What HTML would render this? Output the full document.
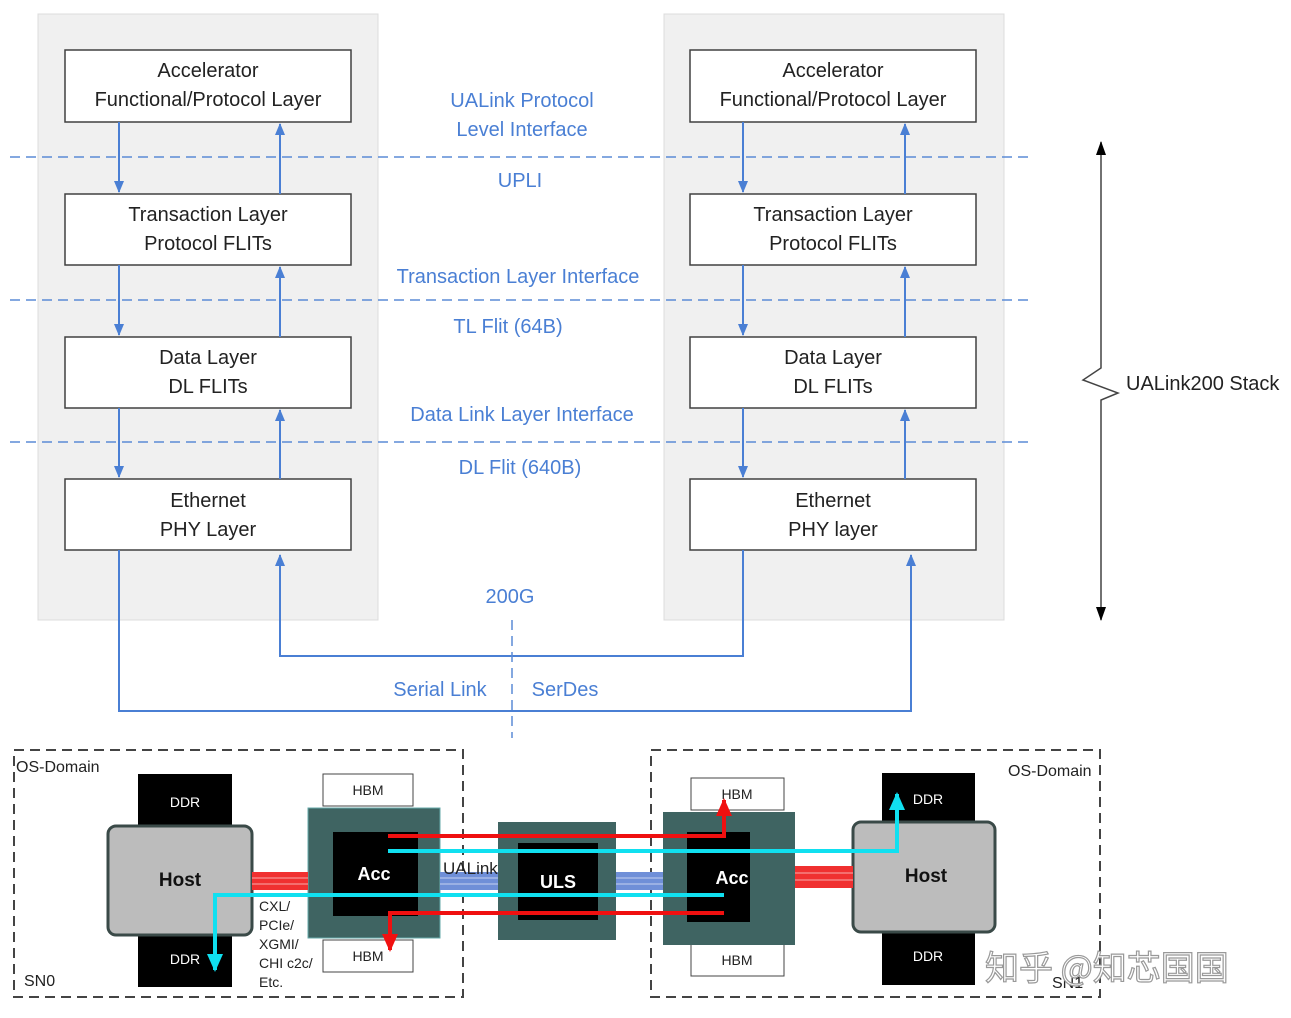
<!DOCTYPE html>
<html><head><meta charset="utf-8"><style>
html,body{margin:0;padding:0;background:#fff;}
svg{display:block;font-family:"Liberation Sans","Noto Sans CJK SC",sans-serif;}
</style></head><body>
<svg width="1291" height="1018" viewBox="0 0 1291 1018" xmlns="http://www.w3.org/2000/svg">
<defs>
<marker id="ab" markerWidth="12" markerHeight="10" refX="11" refY="5" orient="auto" markerUnits="userSpaceOnUse" viewBox="0 0 12 10"><path d="M0,0 L12,5 L0,10 z" fill="#4a7fd4"/></marker>
<marker id="ak" markerWidth="14" markerHeight="10" refX="13" refY="5" orient="auto-start-reverse" markerUnits="userSpaceOnUse" viewBox="0 0 14 10"><path d="M0,0 L14,5 L0,10 z" fill="#000"/></marker>
<marker id="ar" markerWidth="18" markerHeight="16" refX="16" refY="8" orient="auto" markerUnits="userSpaceOnUse" viewBox="0 0 18 16"><path d="M0,0 L18,8 L0,16 z" fill="#f01010"/></marker>
<marker id="ac" markerWidth="18" markerHeight="16" refX="16" refY="8" orient="auto" markerUnits="userSpaceOnUse" viewBox="0 0 18 16"><path d="M0,0 L18,8 L0,16 z" fill="#10e0f0"/></marker>
</defs>
<rect x="38" y="14" width="340" height="606" fill="#f0f0f0" stroke="#dcdcdc"/>
<rect x="664" y="14" width="340" height="606" fill="#f0f0f0" stroke="#dcdcdc"/>
<g fill="#fff" stroke="#404040" stroke-width="1.5">
<rect x="65" y="50" width="286" height="72"/><rect x="65" y="194" width="286" height="71"/><rect x="65" y="337" width="286" height="71"/><rect x="65" y="479" width="286" height="71"/>
<rect x="690" y="50" width="286" height="72"/><rect x="690" y="194" width="286" height="71"/><rect x="690" y="337" width="286" height="71"/><rect x="690" y="479" width="286" height="71"/>
</g>
<g font-size="20" fill="#222" text-anchor="middle">
<text x="208" y="77">Accelerator</text><text x="208" y="106">Functional/Protocol Layer</text>
<text x="208" y="221">Transaction Layer</text><text x="208" y="250">Protocol FLITs</text>
<text x="208" y="364">Data Layer</text><text x="208" y="393">DL FLITs</text>
<text x="208" y="507">Ethernet</text><text x="208" y="536">PHY Layer</text>
<text x="833" y="77">Accelerator</text><text x="833" y="106">Functional/Protocol Layer</text>
<text x="833" y="221">Transaction Layer</text><text x="833" y="250">Protocol FLITs</text>
<text x="833" y="364">Data Layer</text><text x="833" y="393">DL FLITs</text>
<text x="833" y="507">Ethernet</text><text x="833" y="536">PHY layer</text>
</g>
<g stroke="#4a7fd4" stroke-width="2" fill="none">
<line x1="119" y1="122" x2="119" y2="192" marker-end="url(#ab)"/><line x1="280" y1="194" x2="280" y2="124" marker-end="url(#ab)"/>
<line x1="119" y1="265" x2="119" y2="335" marker-end="url(#ab)"/><line x1="280" y1="337" x2="280" y2="267" marker-end="url(#ab)"/>
<line x1="119" y1="408" x2="119" y2="477" marker-end="url(#ab)"/><line x1="280" y1="479" x2="280" y2="410" marker-end="url(#ab)"/>
<line x1="743" y1="122" x2="743" y2="192" marker-end="url(#ab)"/><line x1="905" y1="194" x2="905" y2="124" marker-end="url(#ab)"/>
<line x1="743" y1="265" x2="743" y2="335" marker-end="url(#ab)"/><line x1="905" y1="337" x2="905" y2="267" marker-end="url(#ab)"/>
<line x1="743" y1="408" x2="743" y2="477" marker-end="url(#ab)"/><line x1="905" y1="479" x2="905" y2="410" marker-end="url(#ab)"/>
<polyline points="119,550 119,711 911,711 911,555" marker-end="url(#ab)"/>
<polyline points="743,550 743,656 280,656 280,555" marker-end="url(#ab)"/>
</g>
<g stroke="#5b8bd6" stroke-width="1.5" stroke-dasharray="10,6" fill="none">
<line x1="10" y1="157" x2="1028" y2="157"/><line x1="10" y1="300" x2="1028" y2="300"/><line x1="10" y1="442" x2="1028" y2="442"/>
<line x1="512" y1="620" x2="512" y2="738"/>
</g>
<g font-size="20" fill="#4a7fd4" text-anchor="middle">
<text x="522" y="107">UALink Protocol</text><text x="522" y="136">Level Interface</text>
<text x="520" y="187">UPLI</text>
<text x="518" y="283">Transaction Layer Interface</text>
<text x="508" y="333">TL Flit (64B)</text>
<text x="522" y="421">Data Link Layer Interface</text>
<text x="520" y="474">DL Flit (640B)</text>
<text x="510" y="603">200G</text>
<text x="440" y="696">Serial Link</text>
<text x="565" y="696">SerDes</text>
</g>
<g stroke="#444" stroke-width="1.5" fill="none">
<polyline points="1101,142 1101,340 1101,368 1083,380 1118,393 1101,400 1101,620" marker-start="url(#ak)" marker-end="url(#ak)"/>
</g>
<text x="1126" y="390" font-size="20" fill="#222">UALink200 Stack</text>
<g stroke="#444" stroke-width="2" stroke-dasharray="10,6" fill="none">
<rect x="14" y="750" width="449" height="247"/><rect x="651" y="750" width="449" height="247"/>
</g>
<g font-size="16" fill="#222">
<text x="16" y="772">OS-Domain</text><text x="24" y="986">SN0</text>
<text x="1008" y="776">OS-Domain</text><text x="1052" y="988">SN1</text>
</g>
<rect x="138" y="774" width="94" height="54" fill="#000"/><rect x="138" y="932" width="94" height="55" fill="#000"/>
<rect x="108" y="826" width="144" height="109" rx="8" fill="#bcbcbc" stroke="#3a4a48" stroke-width="3"/>
<rect x="323" y="774" width="90" height="32" fill="#fff" stroke="#444"/><rect x="323" y="940" width="90" height="32" fill="#fff" stroke="#444"/>
<rect x="308" y="808" width="132" height="130" fill="#3f6462" stroke="#6aa" stroke-width="1"/>
<rect x="333" y="832" width="85" height="84" fill="#000"/>
<rect x="498" y="822" width="118" height="118" fill="#3f6462"/>
<rect x="518" y="843" width="80" height="77" fill="#000"/>
<rect x="882" y="773" width="93" height="52" fill="#000"/><rect x="882" y="930" width="93" height="55" fill="#000"/>
<rect x="853" y="822" width="142" height="110" rx="8" fill="#bcbcbc" stroke="#3a4a48" stroke-width="3"/>
<rect x="691" y="778" width="93" height="32" fill="#fff" stroke="#444"/><rect x="691" y="943" width="93" height="33" fill="#fff" stroke="#444"/>
<rect x="663" y="812" width="132" height="133" fill="#3f6462"/>
<rect x="687" y="832" width="63" height="90" fill="#000"/>
<rect x="252" y="872" width="56" height="18" fill="#f03030"/>
<rect x="795" y="866" width="58" height="22" fill="#f03030"/>
<rect x="440" y="872" width="58" height="18" fill="#6f8fd8"/>
<rect x="616" y="872" width="47" height="18" fill="#6f8fd8"/>
<g stroke="#fff" stroke-width="1" opacity="0.6">
<line x1="252" y1="878" x2="308" y2="878"/><line x1="252" y1="884" x2="308" y2="884"/>
<line x1="795" y1="873" x2="853" y2="873"/><line x1="795" y1="880" x2="853" y2="880"/>
<line x1="440" y1="878" x2="498" y2="878"/><line x1="440" y1="884" x2="498" y2="884"/>
<line x1="616" y1="878" x2="663" y2="878"/><line x1="616" y1="884" x2="663" y2="884"/>
</g>
<g font-weight="bold" text-anchor="middle">
<text x="180" y="886" font-size="19" fill="#111">Host</text>
<text x="926" y="882" font-size="19" fill="#111">Host</text>
<text x="374" y="880" font-size="18" fill="#fff">Acc</text>
<text x="558" y="888" font-size="18" fill="#fff">ULS</text>
<text x="732" y="884" font-size="18" fill="#fff">Acc</text>
</g>
<g font-size="14" fill="#fff" text-anchor="middle">
<text x="185" y="807">DDR</text><text x="185" y="964">DDR</text>
<text x="928" y="804">DDR</text><text x="928" y="961">DDR</text>
</g>
<g font-size="14" fill="#222" text-anchor="middle">
<text x="368" y="795">HBM</text><text x="368" y="961">HBM</text>
<text x="737" y="799">HBM</text><text x="737" y="965">HBM</text>
</g>
<g font-size="14" fill="#222">
<text x="259" y="911">CXL/</text><text x="259" y="930">PCIe/</text><text x="259" y="949">XGMI/</text><text x="259" y="968">CHI c2c/</text><text x="259" y="987">Etc.</text>
</g>
<text x="443" y="874" font-size="17" fill="#222">UALink</text>
<g fill="none" stroke-width="4">
<polyline points="388,836 724,836 724,800" stroke="#f01010" marker-end="url(#ar)"/>
<polyline points="388,851 897,851 897,794" stroke="#10e0f0" marker-end="url(#ac)"/>
<polyline points="724,895 215,895 215,970" stroke="#10e0f0" marker-end="url(#ac)"/>
<polyline points="724,913 390,913 390,950" stroke="#f01010" marker-end="url(#ar)"/>
</g>
<text x="985" y="980" font-size="34" fill="#fff" stroke="#999" stroke-width="1.2" font-family="'Noto Sans CJK SC',sans-serif">知乎 @知芯国国</text>
</svg>
</body></html>
